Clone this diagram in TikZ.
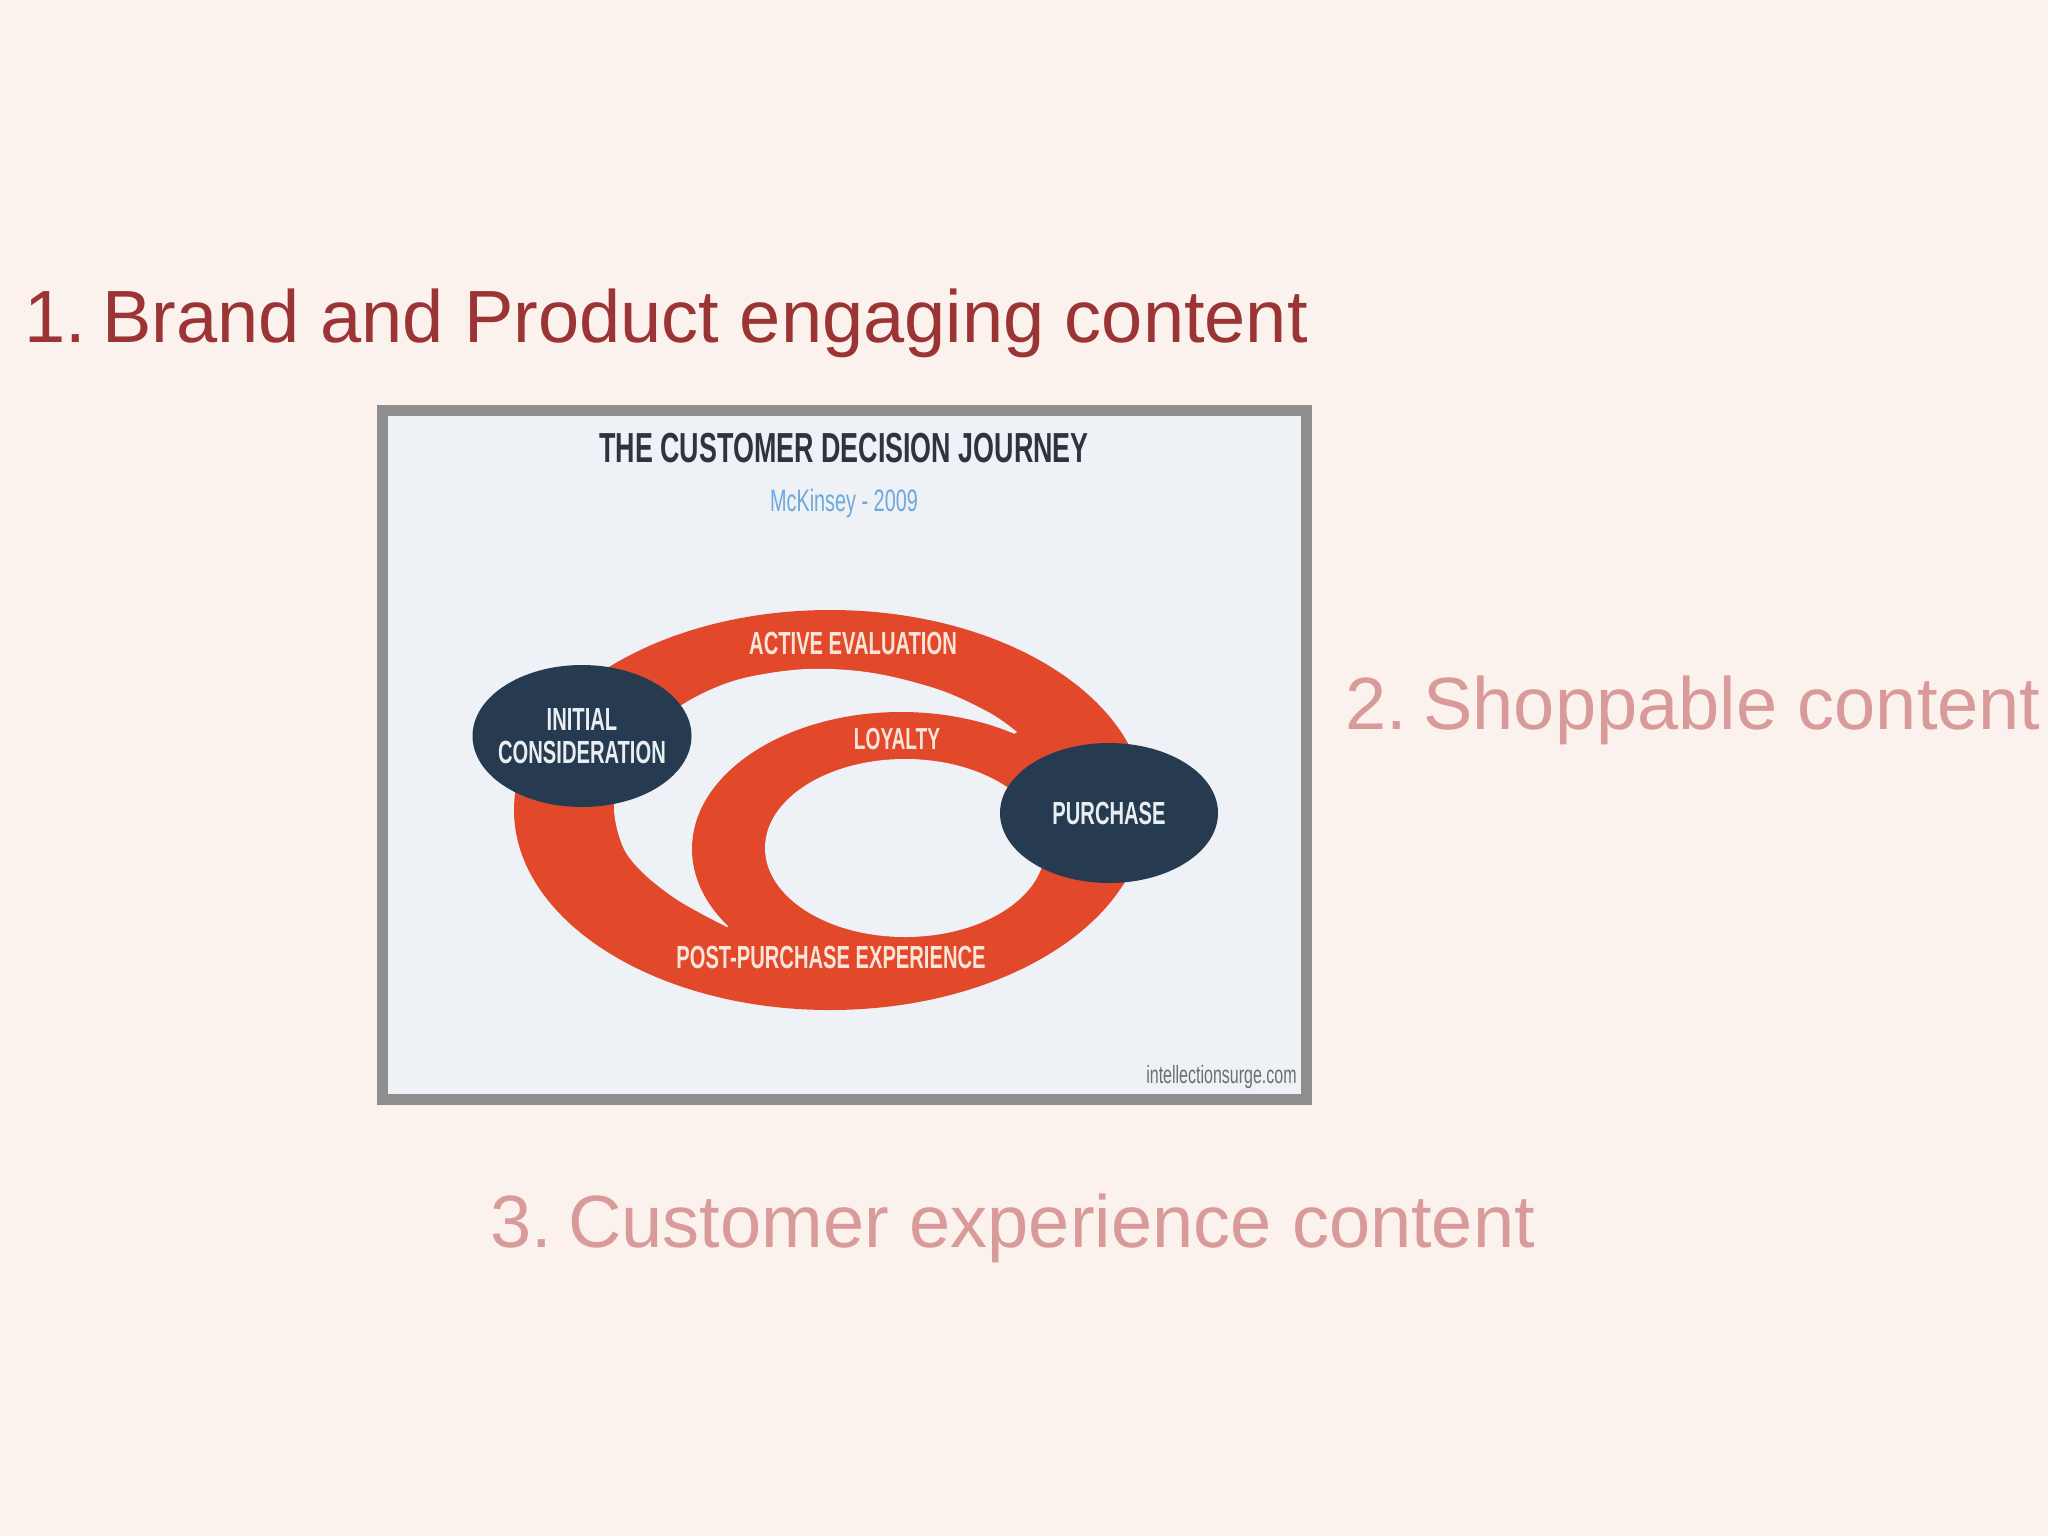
\documentclass[tikz,border=0pt]{standalone}
\usepackage{fontspec}
\setmainfont{Liberation Sans}
\newfontfamily\condf[FakeStretch=0.63]{Liberation Sans Bold}
\newfontfamily\condt[FakeStretch=0.64]{Liberation Sans Bold}
\newfontfamily\condl[FakeStretch=0.64]{Liberation Sans}
\usetikzlibrary{shapes.geometric}
\definecolor{bgcol}{HTML}{FBF1ED}
\definecolor{titlered}{HTML}{9B3434}
\definecolor{pinktext}{HTML}{D99A9A}
\definecolor{panel}{HTML}{EEF1F5}
\definecolor{framegray}{HTML}{8E8E8E}
\definecolor{ringred}{HTML}{E2492B}
\definecolor{navy}{HTML}{263A50}
\definecolor{ringtext}{HTML}{FBE4DA}
\definecolor{navytext}{HTML}{E9EEF2}
\definecolor{darktitle}{HTML}{2D3440}
\definecolor{mckblue}{HTML}{6FA8DC}
\definecolor{credit}{HTML}{6E6E6E}
\tikzset{
  bigtext/.style={anchor=base west, inner sep=0pt, font=\fontsize{37pt}{44pt}\selectfont},
  ringlabel/.style={inner sep=0pt, text=ringtext, font=\condf\fontsize{16pt}{18pt}\selectfont},
  stage/.style={ellipse, fill=navy, inner sep=0pt},
  stagetext/.style={inner sep=0pt, text=navytext, align=center, font=\condf\fontsize{16pt}{16.5pt}\selectfont}
}
\begin{document}
\begin{tikzpicture}[x=0.5pt,y=-0.5pt]
\useasboundingbox (0,0) rectangle (2048,1536);
\fill[bgcol] (0,0) rectangle (2048,1536);
% headings
\node[bigtext, text=titlered] (t1) at (24,342) {1.\hspace{0.22em}Brand and Product engaging content};
\node[bigtext, text=pinktext] (t2) at (1345,729) {2.\hspace{0.22em}Shoppable content};
\node[bigtext, text=pinktext] (t3) at (490,1247) {3.\hspace{0.22em}Customer experience content};
% framed picture
\draw[framegray, line width=5.5pt, fill=panel] (382.5,410.5) rectangle (1306.5,1099.5);
\node[inner sep=0pt, text=darktitle, font=\condt\fontsize{21pt}{24pt}\selectfont] (ptitle) at (844,448) {THE CUSTOMER DECISION JOURNEY};
\node[anchor=base, inner sep=0pt, text=mckblue, font=\condl\fontsize{15.5pt}{18pt}\selectfont] (msub) at (844,511) {McKinsey - 2009};
% ring
\fill[ringred] (830,810) ellipse [x radius=158pt, y radius=100pt];
\fill[panel] plot[smooth, tension=0.55] coordinates {(727,927) (700,913) (673,897) (643,873) (623,847) (614,807) (625,765) (650,730) (690,700) (740,679) (807,669) (873,673) (940,690) (990,713) (1017,732)} -- cycle;
\fill[ringred] (901,849) ellipse [x radius=104.5pt, y radius=68.5pt];
\fill[panel] (905,848) ellipse [x radius=70pt, y radius=44.5pt];
\node[ringlabel] (ae) at (853,643) {ACTIVE EVALUATION};
\node[ringlabel, font=\condf\fontsize{15.2pt}{18pt}\selectfont] (loy) at (897,739) {LOYALTY};
\node[ringlabel] (ppe) at (831,957) {POST-PURCHASE EXPERIENCE};
\node[stage, minimum width=109.5pt, minimum height=71pt] (ic) at (582,736) {};
\node[stagetext] (ictext) at (ic.center) {INITIAL\\CONSIDERATION};
\node[stage, minimum width=109pt, minimum height=70pt] (pur) at (1109,813) {};
\node[stagetext] (purtext) at (pur.center) {PURCHASE};
\node[anchor=base east, inner sep=0pt, text=credit, font=\condl\fontsize{12.5pt}{14pt}\selectfont] (cr) at (1297,1083) {intellectionsurge.com};
\end{tikzpicture}
\end{document}
